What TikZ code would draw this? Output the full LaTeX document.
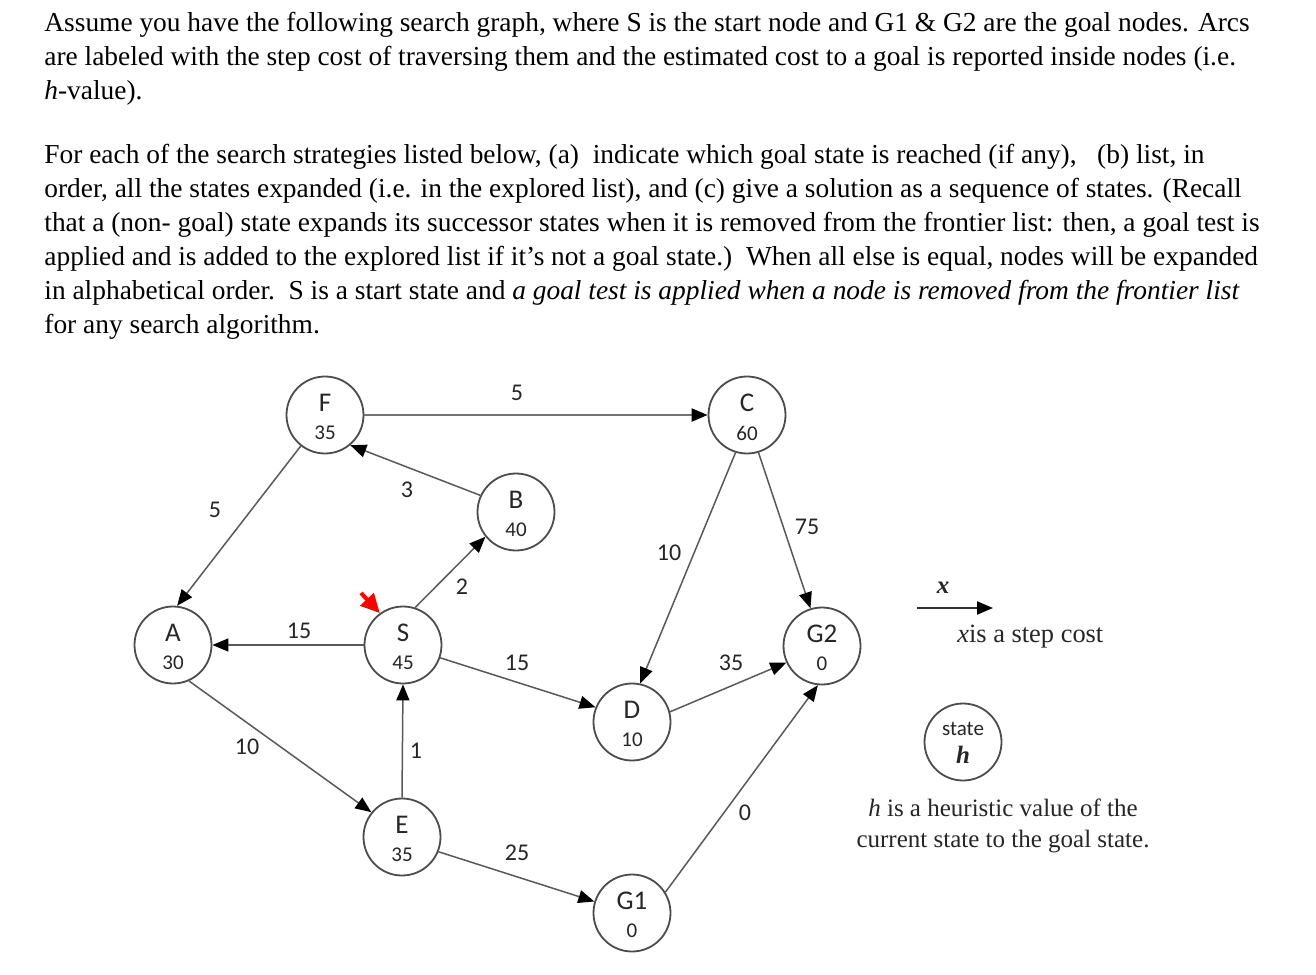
\documentclass[tikz,border=0pt]{standalone}
\usepackage{fontspec}
\setmainfont{Liberation Serif}
\newfontfamily\calfont{Carlito}
\usetikzlibrary{arrows.meta,calc}
\newcommand\stnode[4]{%
  \node[st] (#1) at (#2) {};
  \node[stl] (#1l) at ($(#1)+(0,-12)$) {#3};
  \node[sth] (#1h) at ($(#1)+(0,18)$) {#4};}
\begin{document}
\begin{tikzpicture}[x=0.5pt,y=-0.5pt,
  st/.style={circle,draw=black!70,line width=0.9pt,minimum size=38.5pt,inner sep=0pt,fill=white},
  stl/.style={font=\calfont\fontsize{13.5}{13.5}\selectfont,inner sep=0pt,text=black!85},
  sth/.style={font=\calfont\fontsize{10.5}{10.5}\selectfont,inner sep=0pt,text=black!85},
  edge/.style={draw=black!65,line width=0.75pt,-{Triangle[length=8pt,width=6.5pt,color=black]}},
  cost/.style={font=\calfont\fontsize{12}{12}\selectfont,inner sep=0pt,text=black!85},
  txt/.style={anchor=base west,inner sep=0pt,font=\fontsize{13.7}{17}\selectfont},
  leg/.style={inner sep=0pt,font=\fontsize{12.5}{15.5}\selectfont,text=black!85},
]
\useasboundingbox[fill=white] (0,0) rectangle (1316,974);

% ---- text ----
\node[txt] (l1) at (44,32) {Assume you have the following search graph, where S is the start node and G1 \& G2 are the goal nodes. Arcs};
\node[txt] (l2) at (44,66) {are labeled with the step cost of traversing them and the estimated cost to a goal is reported inside nodes (i.e.};
\node[txt] (l3) at (44,100) {\textit{h}-value).};
\node[txt] (l4) at (44,163) {For each of the search strategies listed below, (a)\ \ indicate which goal state is reached (if any),\ \ \ (b) list, in};
\node[txt] (l5) at (44,197) {order, all the states expanded (i.e. in the explored list), and (c) give a solution as a sequence of states. (Recall};
\node[txt] (l6) at (44,231) {that a (non- goal) state expands its successor states when it is removed from the frontier list: then, a goal test is};
\node[txt] (l7) at (44,265) {applied and is added to the explored list if it’s not a goal state.)\ \ When all else is equal, nodes will be expanded};
\node[txt] (l8) at (44,299) {in alphabetical order.\ \ S is a start state and \textit{a goal test is applied when a node is removed from the frontier list}};
\node[txt] (l9) at (44,333) {for any search algorithm.};

% ---- states ----
\stnode{F}{325,415}{F}{35}
\stnode{C}{747,415}{C}{60}
\stnode{B}{516,512}{B}{40}
\stnode{A}{173,645}{A}{30}
\stnode{S}{403,645}{S}{45}
\stnode{G2}{822,646}{G2}{0}
\stnode{D}{632,722}{D}{10}
\stnode{E}{402,837}{E}{35}
\stnode{G1}{632,913}{G1}{0}

% ---- arcs ----
\draw[edge] (F.232) -- (A.84);
\draw[edge] (B.155) -- (F.-50);
\draw[edge] (S.72) -- (B.219);
\draw[edge] (S.west) -- (A.east);
\draw[edge,line width=1.1pt,draw=black!55] (F.east) -- (C.west);
\draw[edge] (S.-19) -- (D.158);
\draw[edge] (C.253) -- (D.78);
\draw[edge] (C.287) -- (G2.107);
\draw[edge] (D.15) -- (G2.205);
\draw[edge] (G1.32) -- (G2.264);
\draw[edge] (A.294) -- (E.141);
\draw[edge] (E.north) -- (S.south);
\draw[edge] (E.-22) -- (G1.163);

% ---- costs ----
\node[cost] (c1) at (215,510) {5};
\node[cost] (c2) at (407,490) {3};
\node[cost] (c3) at (462,587) {2};
\node[cost] (c4) at (299,631) {15};
\node[cost] (c5) at (517,663) {15};
\node[cost] (c6) at (517,393) {5};
\node[cost] (c7) at (669,553) {10};
\node[cost] (c8) at (807,527) {75};
\node[cost] (c9) at (731,663) {35};
\node[cost] (c10) at (745,813) {0};
\node[cost] (c11) at (247,747) {10};
\node[cost] (c12) at (416,751) {1};
\node[cost] (c13) at (517,853) {25};

% ---- start marker ----
\coordinate (rs) at (361,593);
\draw[draw=red,line width=2pt,-{Triangle[length=9.5pt,width=9pt,color=red]}] (rs) -- (S.126);

% ---- legend ----
\coordinate (la) at (917,608);
\coordinate (lb) at (993,608);
\draw[edge,line width=1pt,draw=black!80] (la) -- (lb);
\node[leg] (lx) at (943,588) {\textbf{\textit{x}}};
\node[leg,anchor=base west,font=\fontsize{13.2}{15.5}\selectfont] (lxt) at (957,642) {\textit{x}is a step cost};
\node[st] (L) at (963,742) {};
\node[sth] (Ls) at (963,729) {state};
\node[leg] (Lh) at (963,755) {\textbf{\textit{h}}};
\node[leg,align=center] (lht) at (1003,826) {\textit{h} is a heuristic value of the\\current state to the goal state.};
\end{tikzpicture}
\end{document}
